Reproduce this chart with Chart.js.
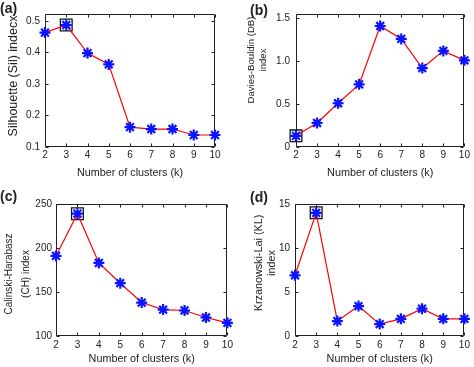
<!DOCTYPE html>
<html><head><meta charset="utf-8">
<script src="https://cdn.jsdelivr.net/npm/chart.js@4/dist/chart.umd.min.js"></script>
<style>
html,body{margin:0;padding:0;background:#fff;}
#wrap{position:relative;width:474px;height:367px;overflow:hidden;font-family:"Liberation Sans",Arial,sans-serif;color:#222;}
.pane{position:absolute;}
.pane canvas{display:block;}
.lbl{position:absolute;font-weight:bold;font-size:14px;line-height:16px;white-space:nowrap;}
.yt{position:absolute;white-space:nowrap;text-align:center;transform:translate(-50%,-50%) rotate(-90deg);}
</style></head><body>
<div id="wrap">
  <div class="pane" style="left:0;top:0;"><canvas id="ca" width="237" height="183"></canvas></div>
  <div class="pane" style="left:237px;top:0;"><canvas id="cb" width="237" height="183"></canvas></div>
  <div class="pane" style="left:0;top:183px;"><canvas id="cc" width="237" height="184"></canvas></div>
  <div class="pane" style="left:237px;top:183px;"><canvas id="cd" width="237" height="184"></canvas></div>

  <div class="lbl" style="left:0px;top:0px;">(a)</div>
  <div class="lbl" style="left:250px;top:2px;">(b)</div>
  <div class="lbl" style="left:0px;top:188px;">(c)</div>
  <div class="lbl" style="left:250px;top:189px;">(d)</div>

  <div class="yt" style="left:13px;top:76px;font-size:12.5px;line-height:14px;">Silhouette (Sil) indecx</div>
  <div class="yt" style="left:255.5px;top:60px;font-size:9.6px;line-height:11.5px;">Davies-Bouldin (DB)<br>index</div>
  <div class="yt" style="left:16.5px;top:274px;font-size:10px;line-height:17px;">Calinski-Harabasz<br>(CH) index</div>
  <div class="yt" style="left:264px;top:263px;font-size:10.8px;line-height:12.5px;">Krzanowski-Lai (KL)<br>index</div>
</div>
<script>
// ---- data ----
const clustersK = [2, 3, 4, 5, 6, 7, 8, 9, 10];
const silIndex = [0.463, 0.487, 0.398, 0.362, 0.163, 0.157, 0.157, 0.138, 0.138];
const dbIndex  = [0.13, 0.28, 0.51, 0.73, 1.41, 1.26, 0.92, 1.12, 1.01];
const chIndex  = [191, 239, 183, 160, 138, 130, 129, 121, 115];
const klIndex  = [6.9, 14.0, 1.7, 3.4, 1.35, 1.95, 3.1, 1.95, 1.95];
const bestK = [3, 2, 3, 3]; // boxed optimum for (a),(b),(c),(d)

const silTicks = [0.1, 0.2, 0.3, 0.4, 0.5];
const silTickLabels = ['0.1', '0.2', '0.3', '0.4', '0.5'];
const dbTicks = [0, 0.5, 1.0, 1.5];
const dbTickLabels = ['0', '0.5', '1.0', '1.5'];
const chTicks = [100, 150, 200, 250];
const chTickLabels = ['100', '150', '200', '250'];
const klTicks = [0, 5, 10, 15];
const klTickLabels = ['0', '5', '10', '15'];
const xTitle = 'Number of clusters (k)';

const INK = '#222';

const framePlugin = {
  id: 'frame',
  beforeDatasetsDraw(chart) {
    const {ctx, chartArea: a, scales} = chart;
    ctx.save();
    ctx.strokeStyle = INK;
    ctx.lineWidth = 1;
    ctx.beginPath();
    const L = Math.round(a.left) + 0.5, R = Math.round(a.right) - 0.5;
    const T = Math.round(a.top) + 0.5, B = Math.round(a.bottom) - 0.5;
    ctx.rect(L, T, R - L, B - T);
    const tl = 3;
    scales.x.ticks.forEach((t, i) => {
      const px = Math.round(scales.x.getPixelForTick(i)) + 0.5;
      ctx.moveTo(px, B); ctx.lineTo(px, B - tl);
      ctx.moveTo(px, T); ctx.lineTo(px, T + tl);
    });
    scales.y.ticks.forEach((t, i) => {
      const py = Math.round(scales.y.getPixelForTick(i)) + 0.5;
      ctx.moveTo(L, py); ctx.lineTo(L + tl, py);
      ctx.moveTo(R, py); ctx.lineTo(R - tl, py);
    });
    ctx.stroke();
    ctx.restore();
  }
};

function makePanel(id, values, best, cfg) {
  const pts = clustersK.map((k, i) => ({x: k, y: values[i]}));
  const boxPts = clustersK.map((k, i) => ({x: k, y: k === best ? values[i] : null}));
  const W = cfg.W, H = cfg.H, A = cfg.area;
  new Chart(document.getElementById(id), {
    type: 'line',
    data: {
      datasets: [
        {
          data: pts,
          borderColor: '#ff0000',
          borderWidth: 1.2,
          pointStyle: 'star',
          pointRadius: 5.5,
          pointBorderColor: '#0a14ff',
          pointBackgroundColor: '#0a14ff',
          pointBorderWidth: 2.2,
          tension: 0,
          clip: false
        },
        {
          data: boxPts,
          showLine: false,
          pointStyle: 'rect',
          pointRadius: 8.3,
          pointBorderColor: '#111',
          pointBackgroundColor: 'rgba(0,0,0,0)',
          pointBorderWidth: 1.3,
          clip: false
        }
      ]
    },
    options: {
      responsive: false,
      animation: false,
      events: [],
      layout: {padding: {left: 0, top: A.t, right: W - A.r, bottom: 0}},
      plugins: {legend: {display: false}, tooltip: {enabled: false}},
      scales: {
        x: {
          type: 'linear', min: 2, max: 10,
          grid: {display: false, drawTicks: false},
          border: {display: false},
          afterBuildTicks: s => { s.ticks = clustersK.map(v => ({value: v})); },
          afterFit: s => { s.height = H - A.b; },
          ticks: {color: INK, font: {family: 'Liberation Sans', size: 10}, padding: cfg.xPad, maxRotation: 0, autoSkip: false},
          title: {display: true, text: xTitle, color: INK, font: {family: 'Liberation Sans', size: 10.8, lineHeight: 1.2}, padding: {top: 0, bottom: cfg.titlePad}}
        },
        y: {
          type: 'linear', min: cfg.yMin, max: cfg.yMax,
          grid: {display: false, drawTicks: false},
          border: {display: false},
          afterBuildTicks: s => { s.ticks = cfg.ticks.map(v => ({value: v})); },
          afterFit: s => { s.width = A.l; },
          ticks: {
            color: INK, font: {family: 'Liberation Sans', size: 10}, padding: cfg.yPad,
            callback: (v) => { const j = cfg.ticks.indexOf(v); return j >= 0 ? cfg.labels[j] : ''; }
          }
        }
      }
    },
    plugins: [framePlugin]
  });
}

makePanel('ca', silIndex, bestK[0], {W: 237, H: 183, area: {l: 45, r: 215, t: 14, b: 147}, yMin: 0.1, yMax: 0.522, ticks: silTicks, labels: silTickLabels, xPad: 2.5, yPad: 5, titlePad: 3.5});
makePanel('cb', dbIndex, bestK[1], {W: 237, H: 183, area: {l: 59, r: 229, t: 14, b: 147}, yMin: 0, yMax: 1.55, ticks: dbTicks, labels: dbTickLabels, xPad: 2.5, yPad: 6, titlePad: 3.5});
makePanel('cc', chIndex, bestK[2], {W: 237, H: 184, area: {l: 56, r: 228, t: 21, b: 153}, yMin: 100, yMax: 250, ticks: chTicks, labels: chTickLabels, xPad: 3.5, yPad: 4, titlePad: 1.5});
makePanel('cd', klIndex, bestK[3], {W: 237, H: 184, area: {l: 58, r: 230, t: 21, b: 153}, yMin: 0, yMax: 15, ticks: klTicks, labels: klTickLabels, xPad: 3.5, yPad: 5, titlePad: 1.5});
</script>
</body></html>
